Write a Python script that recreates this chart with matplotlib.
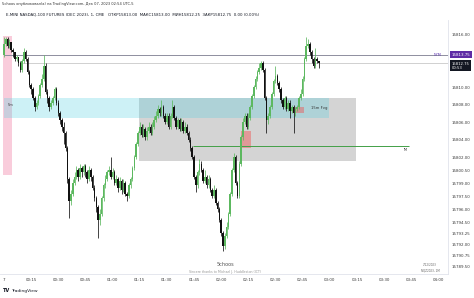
import matplotlib
matplotlib.use("Agg")
import matplotlib.pyplot as plt
from matplotlib.patches import Rectangle

# ---------------- data ----------------
first_open = 15813.75
closes = [
    15815.0, 15815.5, 15814.75, 15815.25, 15814.25, 15814.0, 15813.25, 15813.5, 15812.75, 15812.0,
    15813.0, 15814.0, 15813.25, 15811.75, 15810.25, 15809.75, 15808.75, 15807.75, 15808.25, 15809.0,
    15810.25, 15811.0, 15812.5, 15809.5, 15808.75, 15807.75, 15808.25, 15808.75, 15809.75, 15808.25,
    15807.0, 15806.25, 15805.5, 15804.75, 15803.0, 15799.5, 15797.0, 15797.75, 15799.0, 15799.75,
    15800.5, 15799.75, 15800.75, 15800.25, 15801.0, 15800.25, 15799.5, 15800.5, 15799.75, 15798.5,
    15797.25, 15796.25, 15794.75, 15795.5, 15797.25, 15798.75, 15799.5, 15800.25, 15800.5, 15799.75,
    15800.25, 15799.0, 15799.5, 15798.5, 15799.25, 15798.25, 15799.0, 15797.75, 15797.5, 15798.75,
    15799.5, 15800.75, 15802.0, 15803.5, 15804.75, 15805.5, 15804.5, 15805.25, 15804.25, 15805.0,
    15805.5, 15804.75, 15805.5, 15806.25, 15806.75, 15807.5, 15807.0, 15807.75, 15806.75, 15806.0,
    15806.75, 15805.5, 15806.75, 15807.75, 15806.5, 15805.5, 15806.25, 15805.25, 15806.0, 15805.0,
    15805.5, 15804.75, 15804.0, 15803.0, 15802.0, 15799.75, 15798.75, 15800.25, 15801.25, 15800.5,
    15799.25, 15799.75, 15798.75, 15799.5, 15798.25, 15797.5, 15798.25, 15796.75, 15796.0, 15794.75,
    15793.25, 15791.75, 15793.0, 15794.0, 15795.5, 15797.75, 15800.5, 15802.0, 15799.0, 15797.5,
    15801.25, 15804.25, 15806.0, 15806.75, 15805.5, 15806.5, 15807.75, 15809.0, 15810.0, 15811.0,
    15811.75, 15812.25, 15812.75, 15812.0, 15808.75, 15806.25, 15806.75, 15807.75, 15809.25, 15810.75,
    15811.25, 15810.5, 15809.75, 15808.5, 15807.75, 15808.75, 15807.5, 15808.25, 15807.25, 15807.75,
    15807.0, 15807.5, 15807.75, 15808.75, 15809.25, 15811.0, 15813.25, 15814.75, 15815.0, 15814.0,
    15813.25, 15812.5, 15813.25, 15813.0, 15812.75,
]
highs = [
    15815.75, 15815.75, 15815.75, 15815.5, 15815.25, 15814.5, 15814.0, 15813.75, 15813.5, 15813.0,
    15813.25, 15814.5, 15814.25, 15813.5, 15812.0, 15810.5, 15810.0, 15809.0, 15808.5, 15809.25,
    15810.5, 15811.5, 15813.75, 15812.75, 15809.75, 15809.0, 15808.5, 15809.0, 15810.0, 15810.0,
    15808.5, 15807.25, 15806.5, 15806.0, 15805.0, 15803.25, 15799.75, 15798.25, 15799.5, 15800.25,
    15801.0, 15800.75, 15801.25, 15801.0, 15801.25, 15801.25, 15800.5, 15801.0, 15800.75, 15800.0,
    15798.75, 15797.5, 15796.5, 15796.0, 15797.5, 15799.0, 15800.0, 15800.5, 15801.0, 15802.0,
    15800.75, 15800.5, 15800.0, 15799.75, 15799.75, 15799.5, 15799.5, 15799.25, 15798.0, 15799.0,
    15799.75, 15801.0, 15802.25, 15803.75, 15805.0, 15806.0, 15805.75, 15805.75, 15805.5, 15805.5,
    15806.0, 15805.75, 15806.0, 15806.75, 15807.25, 15808.0, 15807.75, 15808.5, 15808.0, 15807.0,
    15807.0, 15807.0, 15807.0, 15808.5, 15808.0, 15806.75, 15806.5, 15806.5, 15806.5, 15806.25,
    15806.0, 15805.75, 15805.0, 15804.25, 15803.25, 15802.25, 15800.0, 15800.5, 15801.75, 15801.5,
    15800.75, 15800.5, 15800.0, 15800.0, 15799.75, 15798.5, 15798.75, 15798.5, 15797.0, 15796.25,
    15795.0, 15793.5, 15793.25, 15794.5, 15795.75, 15798.0, 15800.75, 15802.5, 15802.25, 15799.25,
    15801.5, 15804.5, 15806.5, 15807.0, 15807.0, 15807.0, 15808.0, 15809.25, 15810.25, 15811.25,
    15812.0, 15812.75, 15813.0, 15813.0, 15812.25, 15809.0, 15807.0, 15808.0, 15809.5, 15811.0,
    15812.5, 15811.5, 15810.75, 15810.0, 15808.75, 15809.0, 15809.0, 15808.5, 15808.5, 15808.0,
    15808.0, 15807.75, 15808.0, 15809.0, 15809.75, 15811.25, 15813.5, 15815.75, 15815.5, 15815.25,
    15814.25, 15813.5, 15814.5, 15813.5, 15813.0,
]
lows = [
    15813.5, 15814.75, 15814.5, 15814.5, 15814.0, 15813.5, 15813.0, 15813.0, 15812.5, 15811.75,
    15811.75, 15812.75, 15813.0, 15811.5, 15810.0, 15809.25, 15808.5, 15807.25, 15807.5, 15808.0,
    15808.75, 15810.0, 15810.75, 15809.25, 15808.25, 15807.25, 15807.5, 15808.0, 15808.5, 15808.0,
    15806.75, 15805.75, 15805.0, 15803.5, 15802.75, 15799.0, 15795.0, 15796.5, 15797.5, 15798.75,
    15799.5, 15799.25, 15799.5, 15799.75, 15800.0, 15799.75, 15799.0, 15799.25, 15799.25, 15798.25,
    15797.0, 15795.75, 15792.75, 15794.25, 15795.25, 15797.0, 15798.5, 15799.25, 15800.0, 15799.5,
    15799.5, 15798.75, 15798.75, 15798.0, 15798.25, 15797.75, 15798.0, 15797.5, 15797.0, 15797.25,
    15798.5, 15799.25, 15800.5, 15801.75, 15803.25, 15804.5, 15804.25, 15804.25, 15804.0, 15804.0,
    15804.75, 15804.5, 15804.5, 15805.25, 15806.0, 15806.5, 15806.75, 15806.75, 15806.5, 15805.75,
    15805.75, 15805.25, 15805.25, 15806.5, 15806.25, 15805.25, 15805.25, 15805.0, 15805.0, 15804.75,
    15804.75, 15804.5, 15803.75, 15802.75, 15801.75, 15799.5, 15798.0, 15798.5, 15800.0, 15800.25,
    15799.0, 15799.0, 15798.5, 15798.5, 15798.0, 15797.25, 15797.25, 15796.5, 15795.75, 15794.5,
    15793.0, 15791.25, 15791.5, 15792.75, 15793.75, 15795.25, 15797.5, 15800.25, 15798.75, 15797.25,
    15797.25, 15801.0, 15804.0, 15805.75, 15805.25, 15805.25, 15806.25, 15807.5, 15808.75, 15809.75,
    15810.75, 15811.5, 15812.0, 15811.75, 15808.5, 15804.75, 15805.75, 15806.5, 15807.5, 15809.0,
    15810.5, 15810.25, 15809.5, 15808.25, 15807.5, 15807.5, 15807.25, 15807.25, 15806.5, 15807.0,
    15804.75, 15806.75, 15807.25, 15807.5, 15808.5, 15809.0, 15810.75, 15813.0, 15814.5, 15813.75,
    15812.75, 15812.25, 15812.25, 15812.75, 15812.25,
]
opens = [first_open] + closes[:-1]
minutes = list(range(len(closes)))

time_ticks = [0, 15, 30, 45, 60, 75, 90, 105, 120, 135, 150, 165, 180, 195, 210, 225, 240]
time_labels = ["7", "00:15", "00:30", "00:45", "01:00", "01:15", "01:30", "01:45", "02:00",
               "02:15", "02:30", "02:45", "03:00", "03:15", "03:30", "03:45", "04:00"]
price_ticks = [15816.00, 15810.00, 15808.00, 15806.00, 15804.00, 15802.00, 15800.50, 15799.00,
               15797.50, 15796.00, 15794.50, 15793.25, 15792.00, 15790.75, 15789.50]

nym_level = 15813.75
last_price = 15812.75
fvg_5m = (0, 179.5, 15806.5, 15808.75)       # x0, x1, y0, y1
range_box = (74.6, 194.5, 15801.5, 15808.75)
killzone = (-0.5, 4.4, 15800.0, 15815.9)
ob_boxes = [(131, 136.5, 15803.0, 15805.0), (159, 166, 15807.0, 15807.75)]
im_level = 15803.25
im_span = (104.4, 224)

header1 = "5choos опубликовал(а) на TradingView.com, Дек 07, 2023 02:54 UTC-5"
header2 = ("E-MINI NASDAQ-100 FUTURES (DEC 2023), 1, CME   ОТКР15813.00  МАКС15813.00  "
           "МИН15812.25  ЗАКР15812.75  0.00 (0.00%)")

# ---------------- figure ----------------
W, H = 474, 298
fig = plt.figure(figsize=(W / 100, H / 100), dpi=100)
fig.patch.set_facecolor("white")
ax = fig.add_axes([0, 24 / H, 448 / W, 254 / H])
ax.set_xlim(-2.2, 245.3)
ax.set_ylim(15788.59, 15817.72)

# zones
def rect(b, **kw):
    x0, x1, y0, y1 = b
    ax.add_patch(Rectangle((x0, y0), x1 - x0, y1 - y0, linewidth=0, **kw))

rect(killzone, facecolor="#f8bbd0", alpha=0.75, zorder=1)
rect(range_box, facecolor="#bdbdbd", alpha=0.65, zorder=1)
rect(fvg_5m, facecolor="#4dd0e1", alpha=0.28, zorder=1.5)
for b in ob_boxes:
    rect(b, facecolor="#ef5350", alpha=0.45, zorder=2)

ax.text(2.0, (fvg_5m[2] + fvg_5m[3]) / 2 + 0.4, "5m", fontsize=2.5, color="#333333",
        va="center", ha="left", zorder=4)
ax.text(fvg_5m[1] - 1, (fvg_5m[2] + fvg_5m[3]) / 2, "15m Fvg", fontsize=2.7,
        color="#333333", va="center", ha="right", zorder=4)

# levels
ax.hlines(nym_level, 0, 245.3, color="#8e8e9e", linewidth=0.7, zorder=2)
ax.hlines(last_price, 9, 245.3, color="#d0d0d0", linewidth=0.7, zorder=2)
ax.hlines(im_level, im_span[0], im_span[1], color="#43a047", linewidth=0.7, zorder=2)
ax.text(im_span[1] - 1, im_level - 0.45, "IM", fontsize=2.5, color="#333333",
        va="center", ha="right")
ax.text(241.5, nym_level, "NYM", fontsize=2.5, color="#5e35b1", va="center", ha="right")

# candles
up_c, dn_c = "#5cb85f", "#111111"
cols = [up_c if c >= o else dn_c for o, c in zip(opens, closes)]
ax.vlines(minutes, lows, highs, colors=cols, linewidth=0.55, zorder=3)
bottoms = [min(o, c) for o, c in zip(opens, closes)]
heights = [max(abs(c - o), 0.06) for o, c in zip(opens, closes)]
ax.bar(minutes, heights, bottom=bottoms, width=0.85, color=cols, linewidth=0, zorder=3.5)

# axes styling
for s in ["top", "left"]:
    ax.spines[s].set_visible(False)
ax.spines["right"].set_color("#e0e3eb")
ax.spines["bottom"].set_color("#e0e3eb")
ax.spines["right"].set_linewidth(0.6)
ax.spines["bottom"].set_linewidth(0.6)
ax.yaxis.tick_right()
ax.set_yticks(price_ticks)
ax.set_yticklabels([f"{p:.2f}" for p in price_ticks])
ax.set_xticks(time_ticks)
ax.set_xticklabels(time_labels)
ax.tick_params(axis="both", length=0, labelsize=2.9, colors="#3a3a3a")
ax.tick_params(axis="y", pad=2.5)
ax.tick_params(axis="x", pad=3.2)

# price labels on axis
ax.annotate(f"{nym_level:.2f}", xy=(1.0, nym_level), xycoords=("axes fraction", "data"),
            xytext=(2.5, 0), textcoords="offset points", fontsize=2.9, color="white",
            va="center", ha="left",
            bbox=dict(boxstyle="square,pad=0.35", fc="#5e2ca5", ec="none"), zorder=6)
ax.annotate(f"{last_price:.2f}\n00:53", xy=(1.0, last_price - 0.3), xycoords=("axes fraction", "data"),
            xytext=(2.5, 0), textcoords="offset points", fontsize=2.7, color="white",
            va="center", ha="left", linespacing=1.1,
            bbox=dict(boxstyle="square,pad=0.35", fc="#131722", ec="none"), zorder=6)

# texts
fig.text(2 / W, 1 - 4.5 / H, header1, fontsize=2.6, color="#333333", va="center", ha="left")
fig.text(6 / W, 1 - 14 / H, header2, fontsize=2.8, color="#131722", va="center", ha="left")
fig.text(225 / W, 1 - 265 / H, "5choos", fontsize=3.6, color="#555555", va="center", ha="center")
fig.text(225 / W, 1 - 272 / H, "Sincere thanks to Michael J. Huddleston (ICT)", fontsize=2.3,
         color="#999999", va="center", ha="center")
fig.text(430 / W, 1 - 265.5 / H, "7/12/2023", fontsize=2.0, color="#666666", va="center", ha="center")
fig.text(430 / W, 1 - 270 / H, "NQZ2023, 1M", fontsize=2.0, color="#666666", va="center", ha="center")
fig.text(3 / W, 1 - 291 / H, "TV", fontsize=3.6, color="#131722", va="center", ha="left",
         fontweight="bold")
fig.text(11 / W, 1 - 291 / H, "TradingView", fontsize=3.2, color="#131722", va="center", ha="left")

fig.savefig("out.png", dpi=100, facecolor="white")
